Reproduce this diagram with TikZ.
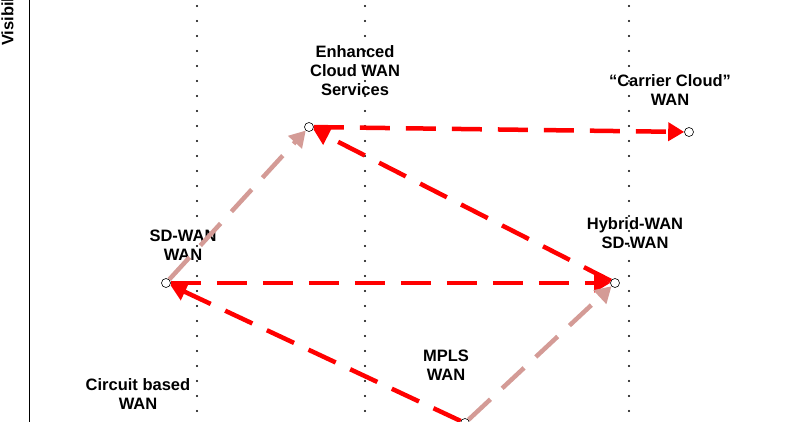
\documentclass[tikz,border=0pt]{standalone}
\usepackage{fontspec}
\setmainfont{Liberation Sans}
\usetikzlibrary{arrows.meta}
\begin{document}
\begin{tikzpicture}[x=1pt,y=-1pt,
  lbl/.style={font=\bfseries\fontsize{16.5}{19}\selectfont,align=center},
  pt/.style={circle,draw=black,fill=white,line width=0.6pt,inner sep=0pt,minimum size=9pt},
  vdot/.style={line width=2.4pt,dash pattern=on 0pt off 15pt,line cap=round},
  mv/.style={line width=4.5pt,dash pattern=on 30pt off 16pt,-{Triangle[length=16pt,width=18pt]}},
  red/.style={mv,draw=red},
  pink/.style={mv,draw={rgb,255:red,212;green,155;blue,150}}]
\useasboundingbox (0,0) rectangle (803,422);
\clip (0,0) rectangle (803,422);
\draw[line width=1pt] (29,0) -- (29,422);
\node[rotate=90,anchor=south west,font=\bfseries\fontsize{16.5}{19}\selectfont,inner sep=0pt] at (17,46) {Visibility};
\foreach \x in {197,365,629} \draw[vdot] (\x,6) -- (\x,422);
\node[pt] (enh) at (309,127) {};
\node[pt] (car) at (689,132) {};
\node[pt] (sdw) at (166,283) {};
\node[pt] (hyb) at (615,283) {};
\node[pt] (mpl) at (465,423) {};
\node[pt] (cir) at (158,428) {};
\node[lbl] at (355,71) {Enhanced\\Cloud WAN\\Services};
\node[lbl] at (670,90) {``Carrier Cloud''\\WAN};
\node[lbl] at (183,245) {SD-WAN\\WAN};
\node[lbl] at (635,233) {Hybrid-WAN\\SD-WAN};
\node[lbl] at (446,365) {MPLS\\WAN};
\node[lbl] at (138,394) {Circuit based\\WAN};
\draw[red] (enh) -- (car);
\draw[pink] (sdw) -- (enh);
\draw[red] (hyb) -- (enh);
\draw[red] (sdw) -- (hyb);
\draw[red] (mpl) -- (sdw);
\draw[pink] (mpl) -- (hyb);
\end{tikzpicture}
\end{document}
